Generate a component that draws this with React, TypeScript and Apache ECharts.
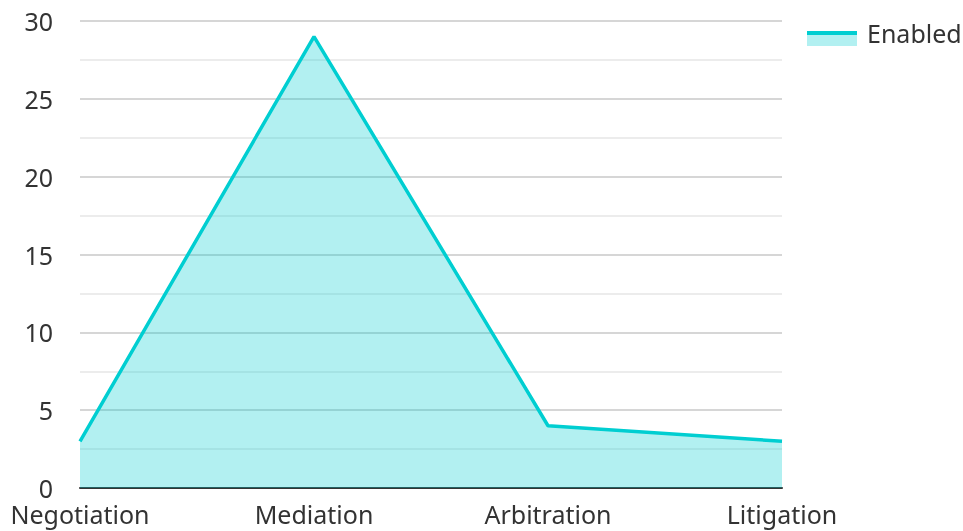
import React, { useEffect, useRef } from "react";
import * as echarts from "echarts";

const categories = ["Negotiation", "Mediation", "Arbitration", "Litigation"];
const enabledValues = [3, 29, 4, 3];
const seriesName = "Enabled";
const lineColor = "#00CED1";
const areaColor = "#b2f0f1";

export default function App() {
  const ref = useRef<HTMLDivElement>(null);
  useEffect(() => {
    if (!ref.current) return;
    const chart = echarts.init(ref.current, null, { renderer: "svg" });
    chart.setOption({
      animation: false,
      textStyle: { fontFamily: "Noto Sans" },
      legend: {
        data: [{ name: seriesName, icon: "rect", itemStyle: { color: "rgba(0,0,0,0)" } }],
        left: 807,
        top: 15,
        itemWidth: 50,
        itemHeight: 14,
        itemGap: 10,
        textStyle: { fontSize: 25, color: "#333", fontFamily: "Noto Sans" },
      },
      graphic: [
        {
          type: "rect",
          left: 807,
          top: 35,
          shape: { width: 50, height: 11 },
          style: { fill: areaColor },
          silent: true,
          z: 100,
        },
        {
          type: "rect",
          left: 807,
          top: 31,
          shape: { width: 50, height: 4 },
          style: { fill: lineColor },
          silent: true,
          z: 101,
        },
      ],
      grid: { left: 80, right: 181, top: 21, bottom: 43, containLabel: false },
      xAxis: {
        type: "category",
        data: categories,
        boundaryGap: false,
        axisLine: { show: true, lineStyle: { color: "#333", width: 2 } },
        axisTick: { show: false },
        axisLabel: { fontSize: 25, color: "#333", margin: 13, fontFamily: "Noto Sans" },
        splitLine: { show: false },
      },
      yAxis: {
        type: "value",
        min: 0,
        max: 30,
        interval: 5,
        axisLine: { show: false },
        axisTick: { show: false },
        axisLabel: { fontSize: 25, color: "#333", margin: 27, fontFamily: "Noto Sans" },
        splitLine: { show: true, lineStyle: { color: "#c8c8c8", width: 1.5 } },
        minorTick: { show: false, splitNumber: 2 },
        minorSplitLine: { show: true, lineStyle: { color: "#e6e6e6", width: 1.5 } },
      },
      series: [
        {
          name: seriesName,
          type: "line",
          data: enabledValues,
          symbol: "none",
          lineStyle: { color: lineColor, width: 3.5 },
          itemStyle: { color: lineColor },
          areaStyle: { color: lineColor, opacity: 0.3 },
        },
      ],
    });
    return () => chart.dispose();
  }, []);
  return (
    <div
      ref={ref}
      style={{ position: "fixed", left: 0, top: 0, width: 963, height: 531 }}
    />
  );
}
